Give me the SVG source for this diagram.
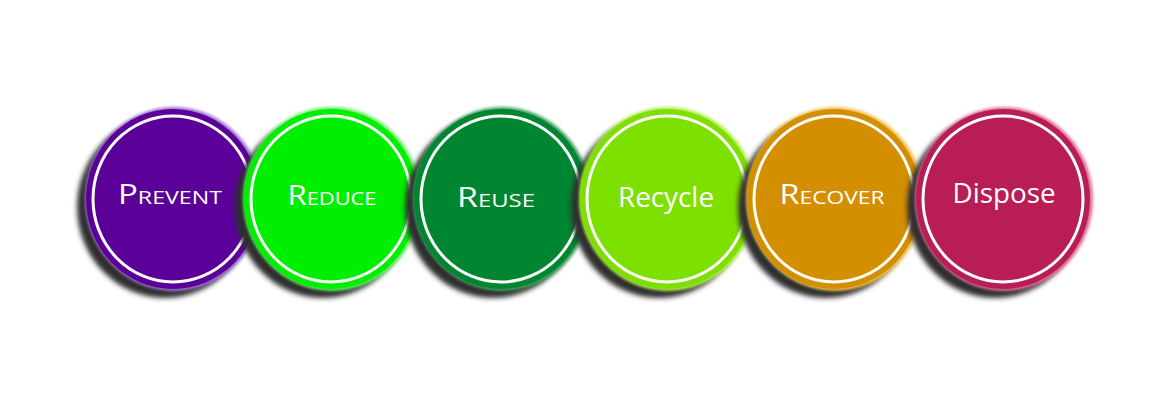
<svg xmlns="http://www.w3.org/2000/svg" width="1170" height="400" viewBox="0 0 1170 400">
<defs>
<filter id="sh" x="-30%" y="-30%" width="160%" height="160%"><feGaussianBlur stdDeviation="2.5"/></filter>
<filter id="soft" x="-20%" y="-20%" width="140%" height="140%"><feGaussianBlur stdDeviation="1.8"/></filter>
</defs>
<style>
.shadow{fill:#2e2e2e;filter:url(#sh)}
.halo{filter:url(#soft)}
.ring{fill:none;stroke:#fff;stroke-width:3}
.lbl{font-family:"Open Sans","DejaVu Sans",sans-serif;font-size:27px;fill:#fff;text-anchor:middle}
.sc{font-variant:small-caps}
</style>
<rect width="1170" height="400" fill="#fff"/>

<g id="prevent">
<ellipse class="shadow" cx="165" cy="207" rx="88" ry="91"/>
<ellipse class="halo" cx="174" cy="199" rx="89" ry="92" fill="#a070d0"/>
<ellipse cx="173" cy="199" rx="87" ry="90" fill="#5a0099"/>
<ellipse class="ring" cx="173" cy="199" rx="80" ry="83"/>
<text class="lbl sc" x="170" y="204" textLength="104" lengthAdjust="spacingAndGlyphs">Prevent</text>
</g>

<g id="reduce">
<ellipse class="shadow" cx="323" cy="207" rx="88" ry="91"/>
<ellipse class="halo" cx="332" cy="199" rx="89" ry="92" fill="#60f060"/>
<ellipse cx="331" cy="199" rx="87" ry="90" fill="#00ee00"/>
<ellipse class="ring" cx="331" cy="199" rx="80" ry="83"/>
<text class="lbl sc" x="332" y="205" textLength="89" lengthAdjust="spacingAndGlyphs">Reduce</text>
</g>

<g id="reuse">
<ellipse class="shadow" cx="493" cy="207" rx="88" ry="91"/>
<ellipse class="halo" cx="502" cy="199" rx="89" ry="92" fill="#40a060"/>
<ellipse cx="501" cy="199" rx="87" ry="90" fill="#008530"/>
<ellipse class="ring" cx="501" cy="199" rx="80" ry="83"/>
<text class="lbl sc" x="496" y="207" textLength="78" lengthAdjust="spacingAndGlyphs">Reuse</text>
</g>

<g id="recycle">
<ellipse class="shadow" cx="659" cy="207" rx="88" ry="91"/>
<ellipse class="halo" cx="668" cy="199" rx="89" ry="92" fill="#b0ee50"/>
<ellipse cx="667" cy="199" rx="87" ry="90" fill="#7ee000"/>
<ellipse class="ring" cx="667" cy="199" rx="80" ry="83"/>
<text class="lbl" x="666" y="207" textLength="96" lengthAdjust="spacingAndGlyphs">Recycle</text>
</g>

<g id="recover">
<ellipse class="shadow" cx="826" cy="207" rx="88" ry="91"/>
<ellipse class="halo" cx="835" cy="199" rx="89" ry="92" fill="#f0c050"/>
<ellipse cx="834" cy="199" rx="87" ry="90" fill="#d48f00"/>
<ellipse class="ring" cx="834" cy="199" rx="80" ry="83"/>
<text class="lbl sc" x="832" y="204" textLength="105" lengthAdjust="spacingAndGlyphs">Recover</text>
</g>

<g id="dispose">
<ellipse class="shadow" cx="995" cy="207" rx="88" ry="91"/>
<ellipse class="halo" cx="1004" cy="199" rx="89" ry="92" fill="#e07098"/>
<ellipse cx="1003" cy="199" rx="87" ry="90" fill="#b81e55"/>
<ellipse class="ring" cx="1003" cy="199" rx="80" ry="83"/>
<text class="lbl" x="1004" y="203" textLength="103" lengthAdjust="spacingAndGlyphs">Dispose</text>
</g>

<g id="connectors"/>
</svg>
